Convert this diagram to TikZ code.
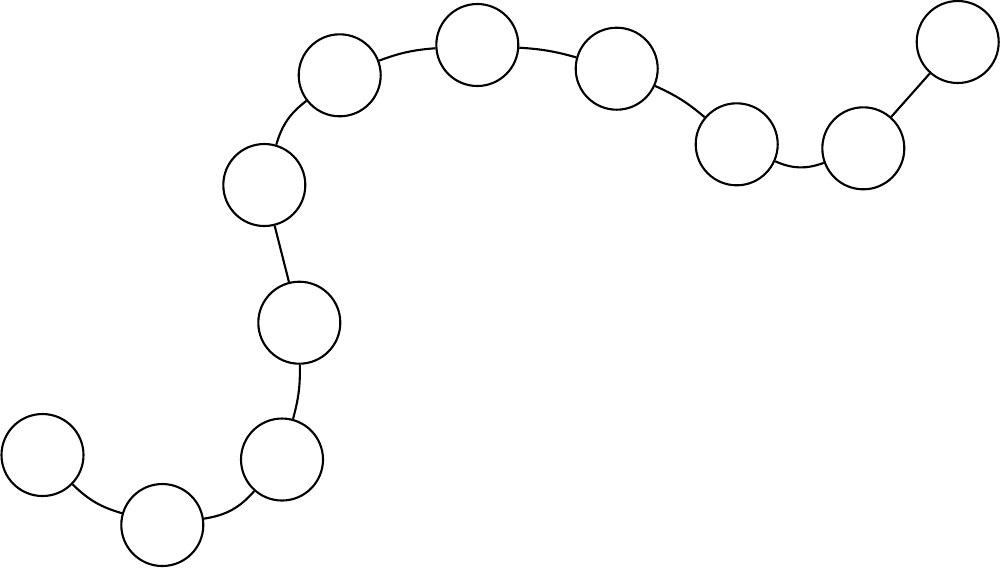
\documentclass[tikz,border=0pt]{standalone}
\begin{document}
\begin{tikzpicture}[
  bead/.style={circle, draw=black, fill=white, line width=0.6pt, minimum size=0.82cm, inner sep=0pt},
  link/.style={draw=black, line width=0.6pt}
]
\path[use as bounding box] (0,0) rectangle (10,-5.68);
\node[bead] (c1)  at (0.425,-4.55) {};
\node[bead] (c2)  at (1.623,-5.25) {};
\node[bead] (c3)  at (2.82,-4.595) {};
\node[bead] (c4)  at (2.993,-3.227) {};
\node[bead] (c5)  at (2.643,-1.85) {};
\node[bead] (c6)  at (3.397,-0.753) {};
\node[bead] (c7)  at (4.773,-0.45) {};
\node[bead] (c8)  at (6.167,-0.687) {};
\node[bead] (c9)  at (7.367,-1.443) {};
\node[bead] (c10) at (8.633,-1.483) {};
\node[bead] (c11) at (9.577,-0.42) {};
\draw[link] (c1) to[bend right=14] (c2);
\draw[link] (c2) to[bend right=20] (c3);
\draw[link] (c3) to[bend right=8] (c4);
\draw[link] (c4) -- (c5);
\draw[link] (c5) to[bend left=18] (c6);
\draw[link] (c6) to[bend left=8] (c7);
\draw[link] (c7) to[bend left=6] (c8);
\draw[link] (c8) to[bend left=8] (c9);
\draw[link] (c9) to[bend right=22] (c10);
\draw[link] (c10) -- (c11);
\end{tikzpicture}
\end{document}
